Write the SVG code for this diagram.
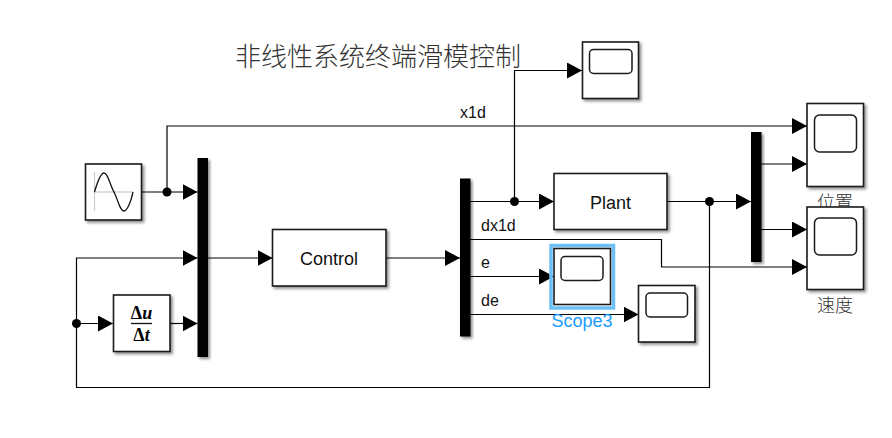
<svg xmlns="http://www.w3.org/2000/svg" width="892" height="438" viewBox="0 0 892 438">
<style>
.b{fill:#fff;stroke:#1a1a1a;stroke-width:1.6}
.m{fill:#000}
.s{filter:url(#sh)}
.w{fill:none;stroke:#000;stroke-width:1.2}
.i{fill:#fff;stroke:#1a1a1a;stroke-width:1.5}
.t{font-family:"Liberation Sans",Arial,sans-serif;fill:#111}
.c{font-family:"Noto Sans CJK SC",sans-serif;fill:#333;font-weight:300}
.d{fill:#000}
</style>
<defs>
<filter id="sh" x="-20%" y="-20%" width="150%" height="150%"><feDropShadow dx="2" dy="2" stdDeviation="1.5" flood-color="#000" flood-opacity="0.45"/></filter>
<marker id="a" markerUnits="userSpaceOnUse" markerWidth="15" markerHeight="16" refX="15" refY="8" orient="auto"><path d="M0 0L15 8L0 16Z"/></marker>
</defs>
<rect width="892" height="438" fill="#fff"/>
<text class="c" x="378" y="65.500" font-size="26" text-anchor="middle">非线性系统终端滑模控制</text>
<g id="connectors">
<path class="w" d="M142 192H197.500" marker-end="url(#a)"/>
<path class="w" d="M167 192V126H807" marker-end="url(#a)"/>
<path class="w" d="M208 258H272.500" marker-end="url(#a)"/>
<path class="w" d="M709.500 201.500V387.500H76.500V258H197.500" marker-end="url(#a)"/>
<path class="w" d="M76.500 323.500H113" marker-end="url(#a)"/>
<path class="w" d="M170 323.500H197.500" marker-end="url(#a)"/>
<path class="w" d="M386 258H460" marker-end="url(#a)"/>
<path class="w" d="M470 201.500H554" marker-end="url(#a)"/>
<path class="w" d="M514.500 201.500V70.500H582" marker-end="url(#a)"/>
<path class="w" d="M470 239.500H661.500V267H807" marker-end="url(#a)"/>
<path class="w" d="M470 276.500H554" marker-end="url(#a)"/>
<path class="w" d="M470 314.500H638.500" marker-end="url(#a)"/>
<path class="w" d="M667 201.500H751" marker-end="url(#a)"/>
<path class="w" d="M761 164H807" marker-end="url(#a)"/>
<path class="w" d="M761 229.500H807" marker-end="url(#a)"/>
<circle class="d" cx="167" cy="192" r="4.500"/>
<circle class="d" cx="76.500" cy="323.500" r="4.500"/>
<circle class="d" cx="514.500" cy="201.500" r="4.500"/>
<circle class="d" cx="709.500" cy="201.500" r="4.500"/>
</g>
<g id="sine"><rect class="b s" x="85.500" y="164" width="56" height="56"/>
<path d="M94.500 172V211" fill="none" stroke="#ccc" stroke-width="1.200"/><path d="M94.500 192H133" fill="none" stroke="#bbb" stroke-width="1.200"/>
<path d="M94.500 192C98 180 101 173 104 173C108 173 110 185 114 192C118 200 120 211 124 211C127 211 131 202 133 192" fill="none" stroke="#111" stroke-width="1.300"/></g>
<g id="mux1"><rect class="m s" x="197.500" y="158" width="10.500" height="199"/></g>
<g id="derivative"><rect class="b s" x="113.500" y="295" width="56.500" height="56.500"/>
<text x="141.500" y="318.500" font-family="Liberation Serif,serif" font-size="18" font-weight="bold" font-style="italic" text-anchor="middle"><tspan font-style="normal">Δ</tspan>u</text>
<path d="M131 323.500H152" stroke="#111" stroke-width="1.300"/>
<text x="141.500" y="341" font-family="Liberation Serif,serif" font-size="18" font-weight="bold" font-style="italic" text-anchor="middle"><tspan font-style="normal">Δ</tspan>t</text></g>
<g id="control"><rect class="b s" x="272.500" y="229.500" width="113.500" height="56.500"/><text class="t" x="329" y="264.500" font-size="18" text-anchor="middle">Control</text></g>
<g id="mux2"><rect class="m s" x="460" y="178.500" width="10.500" height="158"/></g>
<g id="plant"><rect class="b s" x="554" y="173.500" width="113" height="56"/><text class="t" x="610.500" y="208.500" font-size="18" text-anchor="middle">Plant</text></g>
<g id="mux3"><rect class="m s" x="751" y="132" width="10.500" height="130"/></g>
<g id="scope1"><rect class="b s" x="582.500" y="42" width="56" height="56.500"/><rect class="i" x="589.500" y="49.500" width="42.500" height="24" rx="4"/></g>
<g id="scope3"><rect x="551" y="245.500" width="62.500" height="62.500" fill="none" stroke="#6cc0f5" stroke-width="3.500"/><rect class="b" x="554" y="248.500" width="56.500" height="56"/><rect class="i" x="561" y="256.500" width="42" height="24" rx="4"/>
<text x="582" y="327" font-family="Liberation Sans,Arial,sans-serif" font-size="18" fill="#1a9cff" text-anchor="middle">Scope3</text></g>
<g id="scope4"><rect class="b s" x="638.500" y="285.500" width="56.500" height="56.500"/><rect class="i" x="646" y="293" width="41.500" height="24" rx="4"/></g>
<g id="pos"><text class="c" x="835" y="209" font-size="18" text-anchor="middle">位置</text><rect class="b s" x="807" y="103.500" width="56.500" height="83"/><rect class="i" x="814.500" y="115" width="42" height="37" rx="5"/></g>
<g id="vel"><rect class="b s" x="807" y="207" width="56.500" height="82.500"/><rect class="i" x="814.500" y="218" width="42" height="37" rx="5"/><text class="c" x="835" y="312" font-size="18" text-anchor="middle">速度</text></g>
<g id="labels" class="t" font-size="16">
<text x="460" y="118">x1d</text><text x="481" y="231">dx1d</text><text x="481" y="268">e</text><text x="481" y="306">de</text>
</g>
</svg>
